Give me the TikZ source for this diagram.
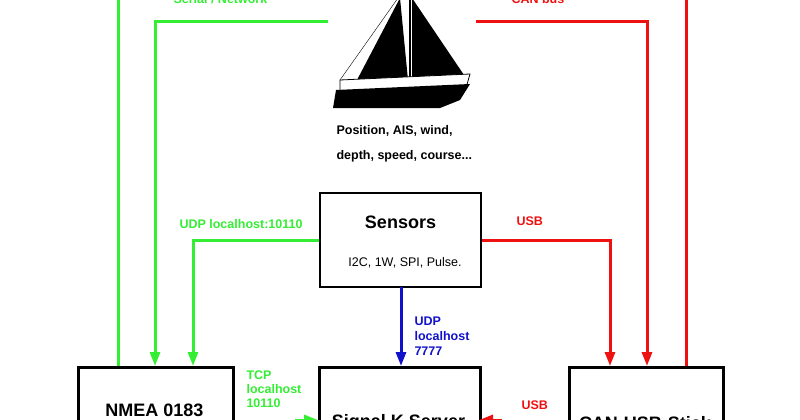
\documentclass[tikz,border=0pt]{standalone}
\usepackage{fontspec}
\setmainfont{Liberation Sans}
\usetikzlibrary{arrows.meta}
\definecolor{gr}{HTML}{33EE33}
\definecolor{rd}{HTML}{EE1111}
\definecolor{bl}{HTML}{1111CC}
\begin{document}
\begin{tikzpicture}[x=1pt,y=-1pt,
  box/.style={draw,line width=2.6pt,inner sep=0pt},
  g/.style={gr,line width=3pt},
  r/.style={rd,line width=3pt},
  b/.style={bl,line width=3pt},
  ar/.style={-{Triangle[length=14pt,width=10pt]}},
  ttl/.style={font=\bfseries\fontsize{18}{20}\selectfont},
  lab/.style={font=\bfseries\fontsize{12.5}{14}\selectfont,align=left,anchor=west}]
\useasboundingbox (0,0) rectangle (800,420);
\clip (0,0) rectangle (800,420);
% boxes
\node[box,minimum width=161pt,minimum height=94pt] (sen) at (400.5,240) {};
\node[ttl] (sent) at (400.5,222) {Sensors};
\node[font=\fontsize{12.5}{14}\selectfont] (sens) at (405,263) {I2C, 1W, SPI, Pulse.};
\node[box,minimum width=155pt,minimum height=90pt,anchor=north west] (nmea) at (77,366) {};
\node[ttl] (nmeat) at (154.5,410) {NMEA 0183};
\node[box,minimum width=161pt,minimum height=90pt,anchor=north west] (sk) at (318,366) {};
\node[ttl] (skt) at (398.5,423) {Signal K Server};
\node[box,minimum width=154pt,minimum height=90pt,anchor=north west] (can) at (568,366) {};
\node[ttl] (cant) at (645,423) {CAN-USB-Stick};
% boat
\fill (400,-2) -- (357,80) -- (408,80) -- cycle;
\fill (412,-2) -- (466,78) -- (412,78) -- cycle;
\draw[line width=0.4pt] (398,-2) -- (340,80);
\draw[line width=2pt] (410,-2) -- (410,92);
\draw[line width=0.8pt,fill=white] (340,80) -- (470,74) -- (466,88) -- (340,92) -- cycle;
\fill (333,108) -- (336,90) -- (470,84) -- (460,100) -- (440,108) -- cycle;
\node[lab] (bt1) at (333,131) {Position, AIS, wind,};
\node[lab] (bt2) at (333,156) {depth, speed, course...};
\coordinate (gtop) at (118,0);
\coordinate (rtop) at (686,0);
% green
\draw[g] (gtop) -- (118,366);
\draw[g,ar] (328,22) -- (155,22) -- (155,366);
\draw[g,ar] (sen.west) -- (193,240) -- (193,366);
\draw[g,ar] (295,420) -- (318,420);
% red
\draw[r] (rtop) -- (686,366);
\draw[r,ar] (476,22) -- (647,22) -- (647,366);
\draw[r,ar] (sen.east) -- (610,240) -- (610,366);
\draw[r,ar] (502,420) -- (479,420);
% blue
\draw[b,ar] (401,287) -- (401,366);
% labels
\node[lab,gr] at (170,-1) {Serial / Network};
\node[lab,rd] at (508,-1) {CAN bus};
\node[lab,gr] at (176,224) {UDP localhost:10110};
\node[lab,rd] at (513,221) {USB};
\node[lab,bl] at (411,321) {UDP};
\node[lab,bl] at (411,336) {localhost};
\node[lab,bl] at (411,351) {7777};
\node[lab,gr] at (243,375) {TCP};
\node[lab,gr] at (243,389) {localhost};
\node[lab,gr] at (243,403) {10110};
\node[lab,rd] at (518,405) {USB};
\end{tikzpicture}
\end{document}
